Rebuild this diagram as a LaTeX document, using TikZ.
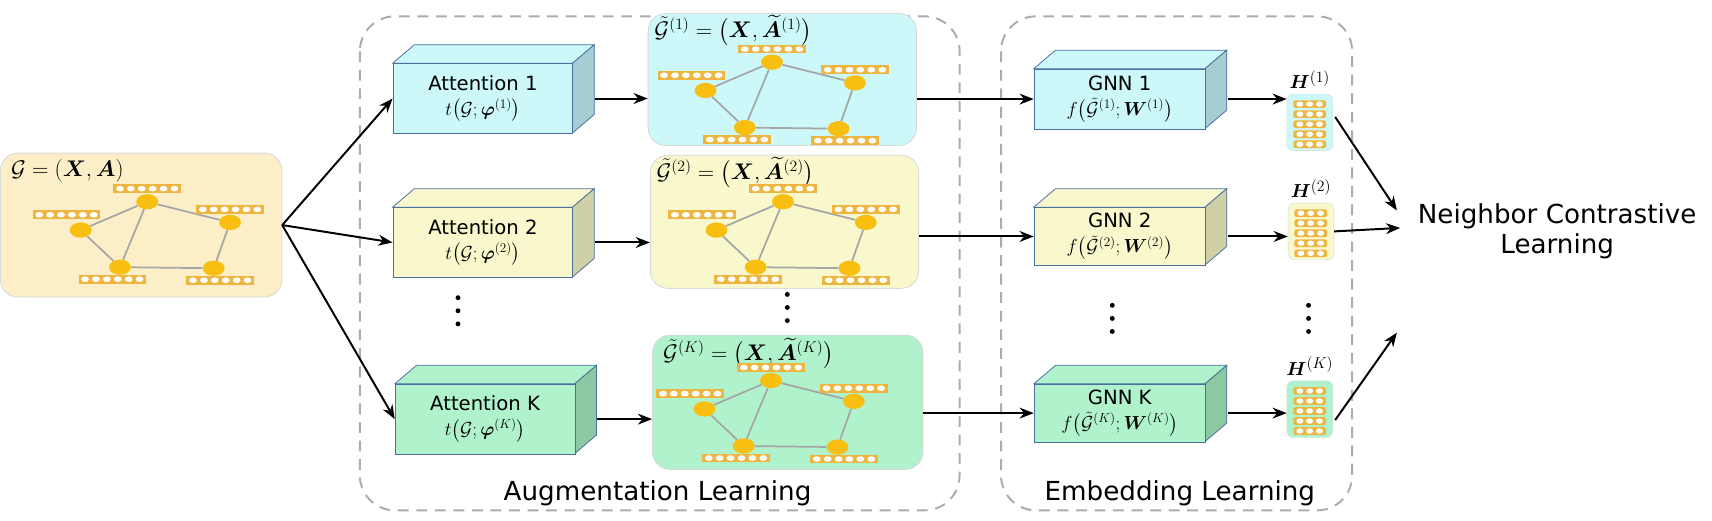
\documentclass[tikz,border=0pt]{standalone}
\usepackage{amsmath,bm}
\usepackage{fontspec}
\setmainfont{DejaVu Sans}
\usetikzlibrary{arrows.meta,shapes.geometric}
\definecolor{gbg}{HTML}{FCEFC8}
\definecolor{cy}{HTML}{CCF8FA}\definecolor{cys}{HTML}{A6CDD2}
\definecolor{ye}{HTML}{F8F8CC}\definecolor{yes}{HTML}{D0D0A6}
\definecolor{gr}{HTML}{B0F2CC}\definecolor{grs}{HTML}{8CC8A2}
\definecolor{org}{HTML}{F8BE10}\definecolor{barc}{HTML}{EEB640}
\definecolor{edgec}{HTML}{4A6E9E}
\tikzset{
 box/.style={draw=black!15, line width=0.8pt, rounded corners=16pt, anchor=north west, inner sep=0},
 front/.style={draw=edgec, line width=0.7pt, anchor=north west, inner sep=0, align=center, font=\fontsize{18}{23}\selectfont},
 arr/.style={-{Stealth[length=13pt,width=10pt]}, line width=1.8pt},
 dashbox/.style={draw=gray!65, dash pattern=on 10pt off 7pt, line width=1.8pt, rounded corners=32pt},
 gn/.style={ellipse, fill=org, minimum width=20pt, minimum height=14pt, inner sep=0},
 ge/.style={draw=gray!70, line width=1.6pt},
 ttl/.style={anchor=north west, inner sep=0, font=\fontsize{20}{22}\selectfont},
 lbl/.style={font=\fontsize{24}{28}\selectfont},
 hl/.style={above=1pt, font=\fontsize{19}{21}\selectfont},
 dot/.style={fill=black, circle, inner sep=0, minimum size=4.5pt},
}
\newcommand\featbar[2]{% center x, y
 \fill[barc] (#1-31,#2-4) rectangle (#1+31,#2+4);
 \foreach \k in {0,...,5} \fill[white] (#1-25+\k*10,#2) ellipse (3.6pt and 2.6pt);
}
\newcommand\mygraph[3]{% prefix, dx, dy
 \begin{scope}[shift={(#2,#3)}]
  \node[gn] (#1a) at (135,45) {};
  \node[gn] (#1b) at (74,71) {};
  \node[gn] (#1c) at (110,105) {};
  \node[gn] (#1d) at (196,106) {};
  \node[gn] (#1e) at (211,64) {};
  \draw[ge] (#1a) -- (#1b) (#1a) -- (#1e) (#1a) -- (#1c) (#1b) -- (#1c) (#1c) -- (#1d) (#1e) -- (#1d);
  \featbar{135}{33} \featbar{61}{57} \featbar{211}{52} \featbar{103}{116} \featbar{202}{117}
 \end{scope}
}
\newcommand\mycube[8]{% name x y w h front side text
 \filldraw[fill=#6, draw=edgec, line width=0.7pt] (#2,#3) -- ++(20,-17) -- ++(#4,0) -- ++(-20,17) -- cycle;
 \filldraw[fill=#7, draw=edgec, line width=0.7pt] (#2+#4,#3) -- ++(20,-17) -- ++(0,#5) -- ++(-20,17) -- cycle;
 \node[front, fill=#6, minimum width=#4pt, minimum height=#5pt] (#1) at (#2,#3) {#8};
}
\newcommand\hvec[4]{% name x y fill
 \node[draw=black!15, fill=#4, rounded corners=6pt, anchor=north west, minimum width=42pt, minimum height=52pt, inner sep=0] (#1) at (#2,#3) {};
 \foreach \i in {0,...,4}{
  \fill[barc, rounded corners=2pt] (#2+6,#3+6+\i*9.2) rectangle ++(30,7);
  \foreach \j in {0,1,2} \fill[white] (#2+12+\j*9,#3+9.5+\i*9.2) ellipse (3.2pt and 2.5pt);
 }
}
\begin{document}
\begin{tikzpicture}[x=1pt,y=-1pt]
\useasboundingbox (0,0) rectangle (1570,477);
% dashed groups
\draw[dashbox] (330,15) rectangle (880,468);
\draw[dashbox] (918,15) rectangle (1240,468);
\node[lbl] (augl) at (603,452) {Augmentation Learning};
\node[lbl] (embl) at (1082,452) {Embedding Learning};
% input graph
\node[box, fill=gbg, minimum width=258pt, minimum height=132pt] (g) at (0,140) {};
\node[ttl] (gt) at (10,146) {$\mathcal{G}=(\bm X,\bm A)$};
\mygraph{g}{0}{140}
% attention cubes
\mycube{att1}{360}{58}{165}{64}{cy}{cys}{Attention 1\\$t\big(\mathcal{G};\bm\varphi^{(1)}\big)$}
\mycube{att2}{360}{190}{165}{64}{ye}{yes}{Attention 2\\$t\big(\mathcal{G};\bm\varphi^{(2)}\big)$}
\mycube{attk}{362}{352}{165}{64}{gr}{grs}{Attention K\\$t\big(\mathcal{G};\bm\varphi^{(K)}\big)$}
% augmented graphs
\node[box, fill=cy, minimum width=246pt, minimum height=121pt] (g1) at (594,12) {};
\node[ttl] (g1t) at (600,14) {$\tilde{\mathcal{G}}^{(1)}=\big(\bm X,\widetilde{\bm A}^{(1)}\big)$};
\mygraph{ga}{573}{12}
\node[box, fill=ye, minimum width=246pt, minimum height=122pt] (g2) at (596,142) {};
\node[ttl] (g2t) at (602,144) {$\tilde{\mathcal{G}}^{(2)}=\big(\bm X,\widetilde{\bm A}^{(2)}\big)$};
\mygraph{gb}{583}{140}
\node[box, fill=gr, minimum width=248pt, minimum height=123pt] (gk) at (598,307) {};
\node[ttl] (gkt) at (608,310) {$\tilde{\mathcal{G}}^{(K)}=\big(\bm X,\widetilde{\bm A}^{(K)}\big)$};
\mygraph{gc}{572}{304}
% GNN cubes
\mycube{gnn1}{948}{63}{157}{55}{cy}{cys}{GNN 1\\$f\big(\tilde{\mathcal{G}}^{(1)};\bm W^{(1)}\big)$}
\mycube{gnn2}{948}{190}{157}{53}{ye}{yes}{GNN 2\\$f\big(\tilde{\mathcal{G}}^{(2)};\bm W^{(2)}\big)$}
\mycube{gnnk}{948}{352}{157}{53}{gr}{grs}{GNN K\\$f\big(\tilde{\mathcal{G}}^{(K)};\bm W^{(K)}\big)$}
% H vectors
\hvec{h1}{1180}{86}{cy}
\hvec{h2}{1181}{186}{ye}
\hvec{hk}{1180}{349}{gr}
\node[hl] (h1l) at (h1.north) {$\bm H^{(1)}$};
\node[hl] (h2l) at (h2.north) {$\bm H^{(2)}$};
\node[hl] (hkl) at (hk.north) {$\bm H^{(K)}$};
% output
\node[lbl, align=center] (ncl) at (1428,212) {Neighbor Contrastive\\Learning};
\coordinate (nin) at (1284,209);
% vertical dots
\foreach \x/\y in {420/273, 722/270, 1020/280, 1200/280}{
 \node[dot] at (\x,\y) {}; \node[dot] at (\x,\y+12) {}; \node[dot] at (\x,\y+24) {};
}
% arrows
\draw[arr] (g.east) -- (att1.west);
\draw[arr] (g.east) -- (att2.west);
\draw[arr] (g.east) -- (attk.west);
\draw[arr] ([xshift=20pt]att1.east) -- (g1.west |- att1.east);
\draw[arr] ([xshift=20pt]att2.east) -- (g2.west |- att2.east);
\draw[arr] ([xshift=20pt]attk.east) -- (gk.west |- attk.east);
\draw[arr] (g1.east |- gnn1.west) -- (gnn1.west);
\draw[arr] (g2.east |- gnn2.west) -- (gnn2.west);
\draw[arr] (gk.east |- gnnk.west) -- (gnnk.west);
\draw[arr] ([xshift=20pt]gnn1.east) -- (h1.west |- gnn1.east);
\draw[arr] ([xshift=20pt]gnn2.east) -- (h2.west |- gnn2.east);
\draw[arr] ([xshift=20pt]gnnk.east) -- (hk.west |- gnnk.east);
\draw[arr] ([shift={(2,-5)}]h1.east) -- (1281,193);
\draw[arr] (h2.east) -- (nin);
\draw[arr] ([shift={(2,10)}]hk.east) -- (1281,305);
\end{tikzpicture}
\end{document}
